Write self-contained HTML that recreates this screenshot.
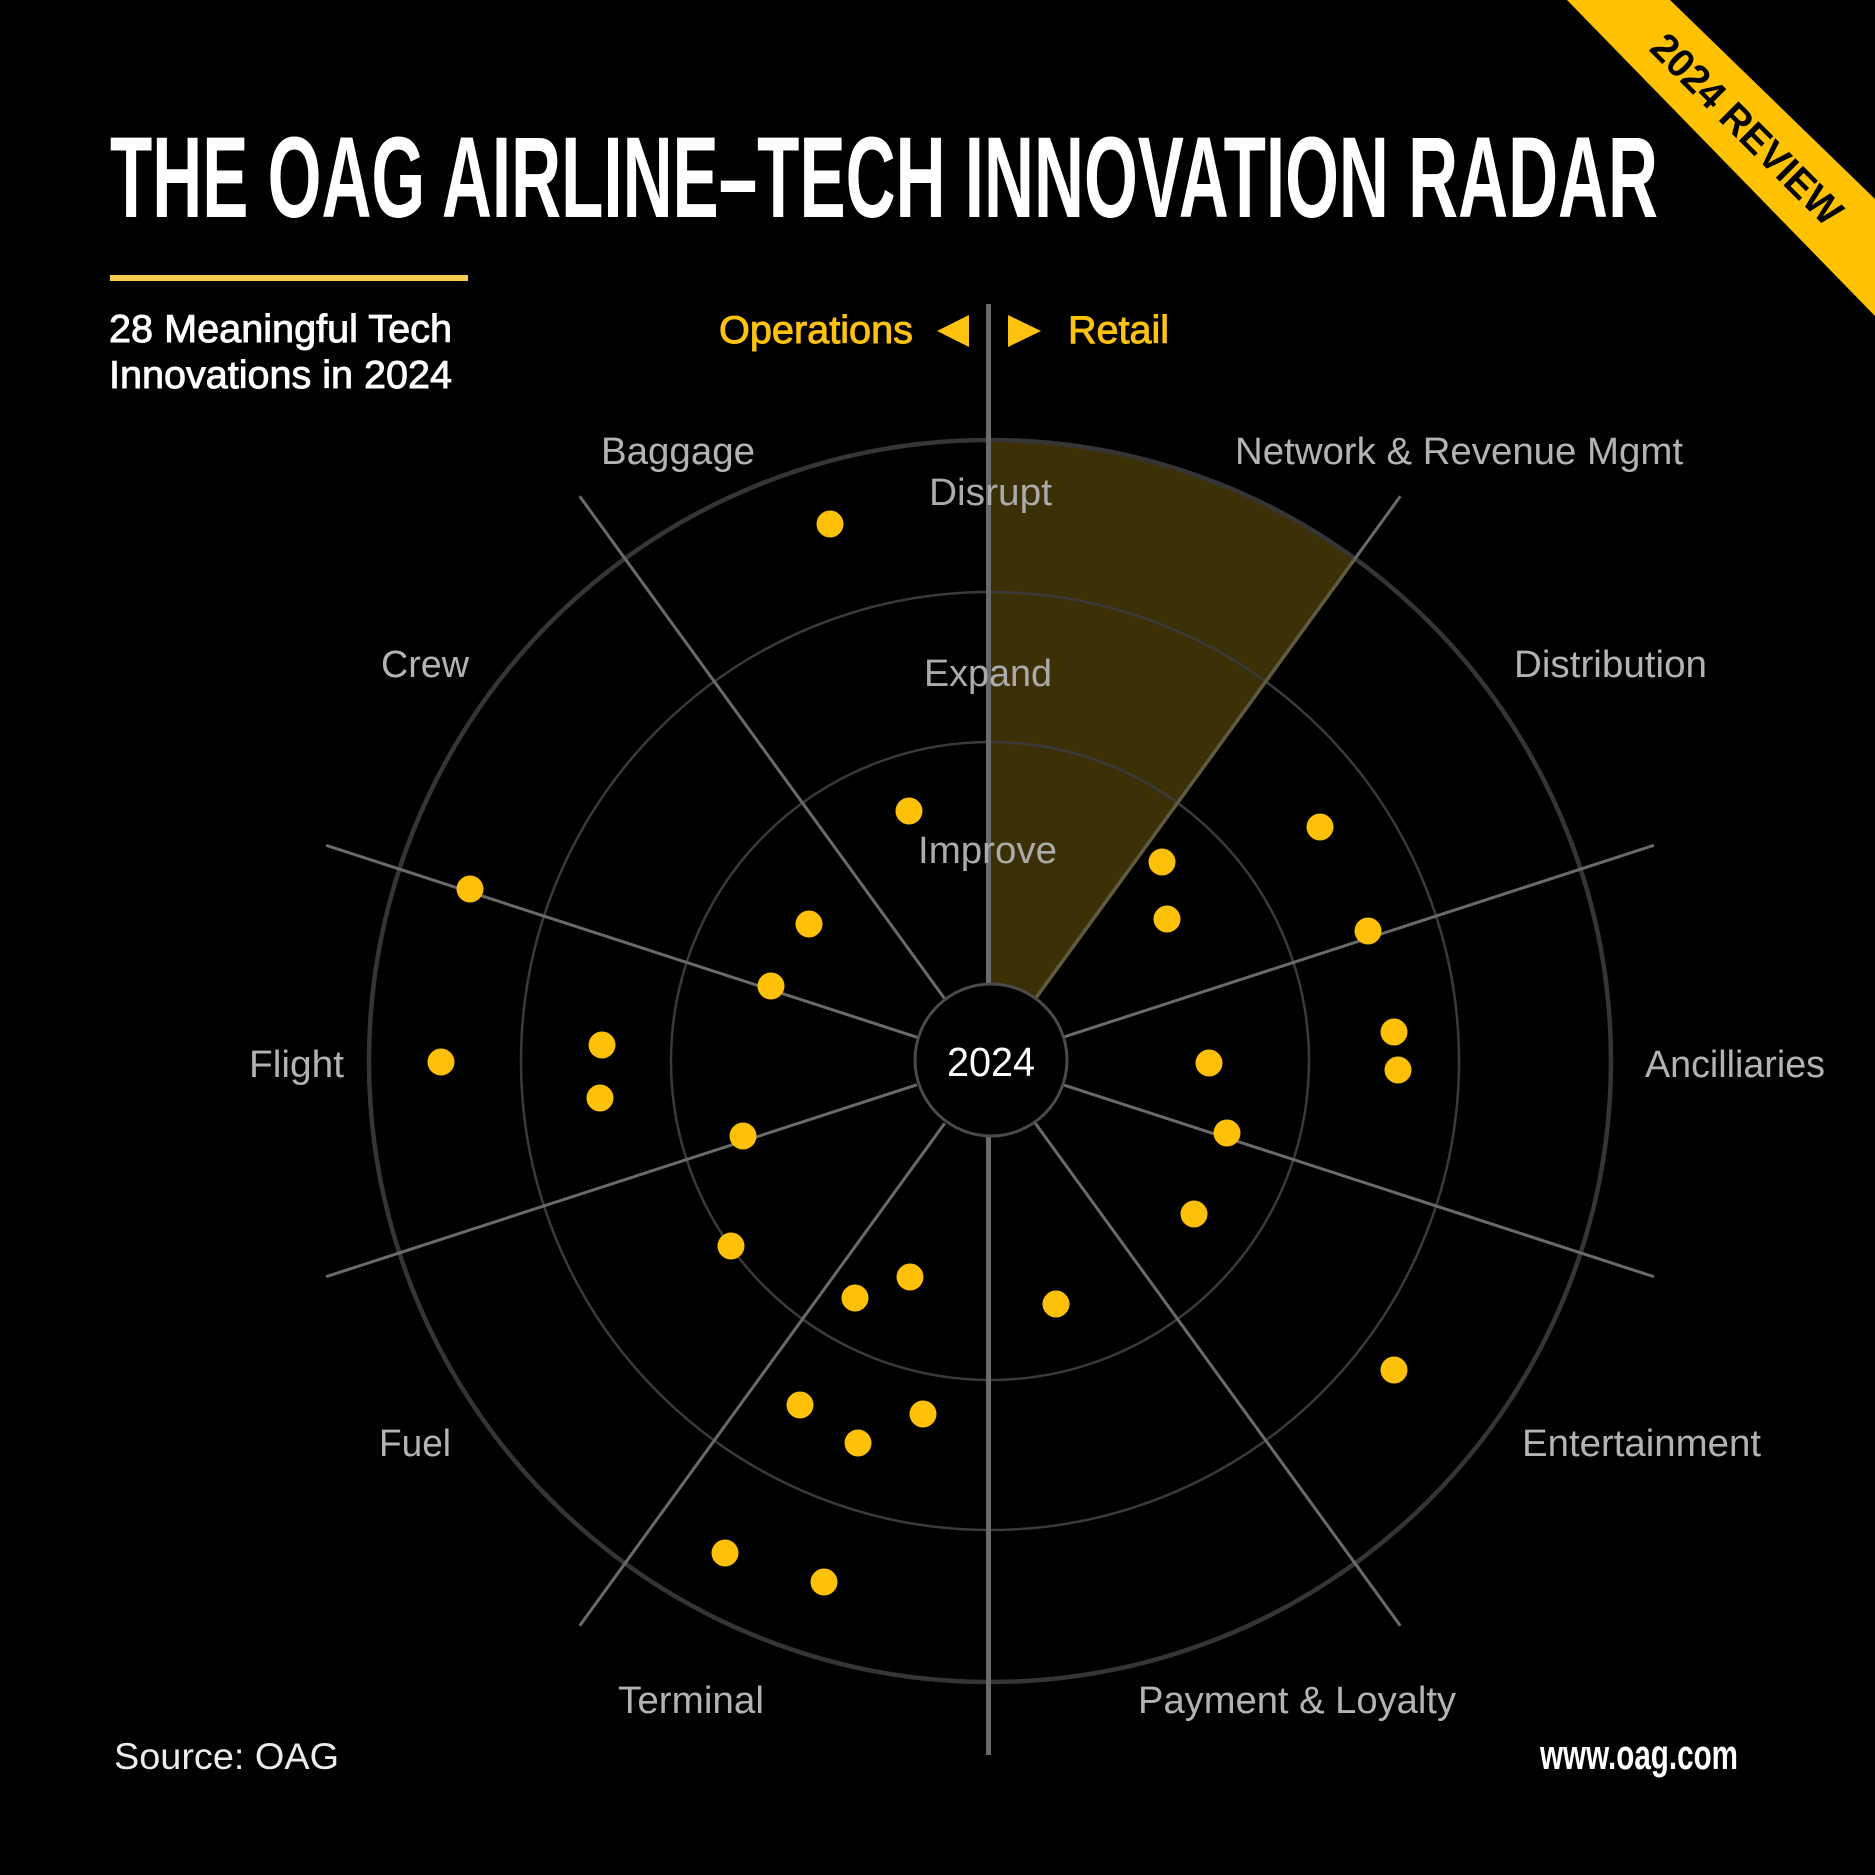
<!DOCTYPE html>
<html>
<head>
<meta charset="utf-8">
<style>
  html, body { margin:0; padding:0; background:#000; }
  svg { display:block; }
</style>
</head>
<body>
<svg xmlns="http://www.w3.org/2000/svg" width="1875" height="1875" viewBox="0 0 1875 1875">
  <rect x="0" y="0" width="1875" height="1875" fill="#000"/>

  <!-- Ribbon -->
  <polygon points="1567,0 1670,0 1875,199 1875,316" fill="#FFC200"/>
  <text transform="translate(1747,129) rotate(45)" x="0" y="14" text-anchor="middle"
        font-family="Liberation Sans, sans-serif" font-weight="bold" font-size="40" fill="#000"
        textLength="252" lengthAdjust="spacingAndGlyphs">2024 REVIEW</text>

  <!-- Title -->
  <text x="110" y="217" font-family="Liberation Sans, sans-serif" font-weight="bold" font-size="115" fill="#fff"
        textLength="1548" lengthAdjust="spacingAndGlyphs">THE OAG AIRLINE–TECH INNOVATION RADAR</text>

  <!-- Underline -->
  <rect x="110" y="275" width="358" height="6" fill="#F6CB50"/>

  <!-- Subtitle -->
  <g font-family="Liberation Sans, sans-serif" font-size="39" fill="#fff" stroke="#fff" stroke-width="0.9">
    <text x="109" y="342" textLength="343" lengthAdjust="spacingAndGlyphs">28 Meaningful Tech</text>
    <text x="109" y="388" textLength="343" lengthAdjust="spacingAndGlyphs">Innovations in 2024</text>
  </g>

  <!-- Operations / Retail -->
  <g font-family="Liberation Sans, sans-serif" font-size="39" fill="#FFC20E" stroke="#FFC20E" stroke-width="0.9">
    <text x="719" y="343" textLength="194" lengthAdjust="spacingAndGlyphs">Operations</text>
    <text x="1068" y="343" textLength="101" lengthAdjust="spacingAndGlyphs">Retail</text>
  </g>
  <polygon points="937,331 969,315 969,347" fill="#FFC20E"/>
  <polygon points="1008,315 1008,347 1041,331" fill="#FFC20E"/>

  <!-- Highlighted sector -->
  <path d="M990,440 A621,621 0 0 1 1355,558.6 L1035.3,998.7 A77,77 0 0 0 990,984 Z" fill="#3c3006"/>

  <!-- Rings -->
  <g fill="none">
    <circle cx="990" cy="1061" r="319" stroke="#3a3a3a" stroke-width="2.5"/>
    <circle cx="990" cy="1061" r="469" stroke="#3a3a3a" stroke-width="2.5"/>
    <circle cx="990" cy="1061" r="621" stroke="#353535" stroke-width="4.5"/>
  </g>

  <!-- Spokes -->
  <g stroke="#6a6a6a" stroke-width="3" fill="none">
    <line x1="1035.3" y1="998.7" x2="1400.3" y2="496.3"/>
    <line x1="1063.2" y1="1037.2" x2="1653.9" y2="845.3"/>
    <line x1="1063.2" y1="1084.8" x2="1653.9" y2="1276.7"/>
    <line x1="1035.3" y1="1123.3" x2="1400.3" y2="1625.7"/>
    <line x1="944.7" y1="1123.3" x2="579.7" y2="1625.7"/>
    <line x1="916.8" y1="1084.8" x2="326.1" y2="1276.7"/>
    <line x1="916.8" y1="1037.2" x2="326.1" y2="845.3"/>
    <line x1="944.7" y1="998.7" x2="579.7" y2="496.3"/>
  </g>
  <line x1="1035.3" y1="998.7" x2="1355" y2="558.6" stroke="#615a42" stroke-width="3.5"/>

  <!-- Vertical axis -->
  <line x1="988.5" y1="304" x2="988.5" y2="1755" stroke="#6a6a6a" stroke-width="5"/>

  <!-- Center circle -->
  <circle cx="991" cy="1060" r="76" fill="#000" stroke="#4a4a4a" stroke-width="3"/>
  <text x="991" y="1076" text-anchor="middle" font-family="Liberation Sans, sans-serif" font-size="41" fill="#fff"
        textLength="88" lengthAdjust="spacingAndGlyphs">2024</text>

  <!-- Dots -->
  <g fill="#FFC107">
    <circle cx="830" cy="524" r="13.5"/>
    <circle cx="909" cy="811" r="13.5"/>
    <circle cx="809" cy="924" r="13.5"/>
    <circle cx="771" cy="986" r="13.5"/>
    <circle cx="470" cy="889" r="13.5"/>
    <circle cx="441" cy="1062" r="13.5"/>
    <circle cx="602" cy="1045" r="13.5"/>
    <circle cx="600" cy="1098" r="13.5"/>
    <circle cx="743" cy="1136" r="13.5"/>
    <circle cx="731" cy="1246" r="13.5"/>
    <circle cx="855" cy="1298" r="13.5"/>
    <circle cx="910" cy="1277" r="13.5"/>
    <circle cx="800" cy="1405" r="13.5"/>
    <circle cx="923" cy="1414" r="13.5"/>
    <circle cx="858" cy="1443" r="13.5"/>
    <circle cx="725" cy="1553" r="13.5"/>
    <circle cx="824" cy="1582" r="13.5"/>
    <circle cx="1056" cy="1304" r="13.5"/>
    <circle cx="1194" cy="1214" r="13.5"/>
    <circle cx="1227" cy="1133" r="13.5"/>
    <circle cx="1209" cy="1063" r="13.5"/>
    <circle cx="1394" cy="1370" r="13.5"/>
    <circle cx="1394" cy="1032" r="13.5"/>
    <circle cx="1398" cy="1070" r="13.5"/>
    <circle cx="1368" cy="931" r="13.5"/>
    <circle cx="1320" cy="827" r="13.5"/>
    <circle cx="1162" cy="862" r="13.5"/>
    <circle cx="1167" cy="919" r="13.5"/>
  </g>

  <!-- Ring labels -->
  <g font-family="Liberation Sans, sans-serif" font-size="38" fill="#ababab">
    <text x="929" y="505" textLength="123" lengthAdjust="spacingAndGlyphs">Disrupt</text>
    <text x="924" y="686" textLength="128" lengthAdjust="spacingAndGlyphs">Expand</text>
    <text x="918" y="863" textLength="139" lengthAdjust="spacingAndGlyphs">Improve</text>
  </g>

  <!-- Category labels -->
  <g font-family="Liberation Sans, sans-serif" font-size="38" fill="#b3b3b3">
    <text x="601" y="464" textLength="154" lengthAdjust="spacingAndGlyphs">Baggage</text>
    <text x="1235" y="464" textLength="448" lengthAdjust="spacingAndGlyphs">Network &amp; Revenue Mgmt</text>
    <text x="381" y="677" textLength="88" lengthAdjust="spacingAndGlyphs">Crew</text>
    <text x="1514" y="677" textLength="193" lengthAdjust="spacingAndGlyphs">Distribution</text>
    <text x="249" y="1077" textLength="95" lengthAdjust="spacingAndGlyphs">Flight</text>
    <text x="1645" y="1077" textLength="180" lengthAdjust="spacingAndGlyphs">Ancilliaries</text>
    <text x="379" y="1456" textLength="72" lengthAdjust="spacingAndGlyphs">Fuel</text>
    <text x="1522" y="1456" textLength="239" lengthAdjust="spacingAndGlyphs">Entertainment</text>
    <text x="618" y="1713" textLength="146" lengthAdjust="spacingAndGlyphs">Terminal</text>
    <text x="1138" y="1713" textLength="318" lengthAdjust="spacingAndGlyphs">Payment &amp; Loyalty</text>
  </g>

  <!-- Footer -->
  <text x="114" y="1769" font-family="Liberation Sans, sans-serif" font-size="37" fill="#ececec"
        textLength="225" lengthAdjust="spacingAndGlyphs">Source: OAG</text>
  <text x="1540" y="1769" font-family="Liberation Sans, sans-serif" font-weight="bold" font-size="42" fill="#fff"
        textLength="198" lengthAdjust="spacingAndGlyphs">www.oag.com</text>
</svg>
</body>
</html>
